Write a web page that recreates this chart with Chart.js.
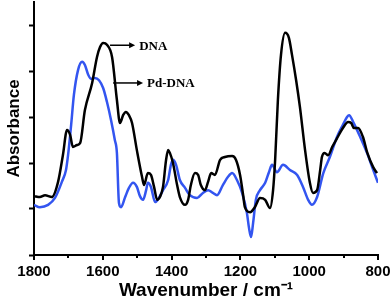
<!DOCTYPE html>
<html>
<head>
<meta charset="utf-8">
<script src="https://cdn.jsdelivr.net/npm/chart.js@4.4.1/dist/chart.umd.min.js"></script>
<style>
  html, body { margin: 0; padding: 0; background: #fff; }
  #wrap { width: 392px; height: 304px; }
</style>
</head>
<body>
<div id="wrap"><canvas id="chart" width="392" height="304"></canvas></div>
<script>
// DNA (black) spectrum
const dnaWave = [1800, 1783, 1768, 1748, 1730, 1716, 1704, 1695, 1687, 1675, 1666, 1652, 1631, 1617, 1608, 1599, 1588, 1573, 1559, 1550,
	1541, 1533, 1524, 1515, 1501, 1486, 1480, 1469, 1460, 1451, 1442, 1434, 1425, 1416, 1410, 1405, 1396, 1384, 1376, 1361,
	1352, 1344, 1332, 1323, 1315, 1303, 1294, 1285, 1274, 1259, 1245, 1224, 1213, 1201, 1192, 1187, 1172, 1158, 1143, 1128,
	1114, 1105, 1099, 1091, 1082, 1070, 1059, 1050, 1038, 1027, 1012, 998, 989, 977, 968, 963, 955, 945, 933, 919,
	902, 887, 878, 870, 858, 844, 831, 814, 803];
const dnaAbs = [1.28, 1.26, 1.30, 1.26, 1.59, 2.17, 2.72, 2.61, 2.35, 2.39, 2.43, 3.15, 3.74, 4.30, 4.52, 4.61, 4.57, 4.30, 3.37, 2.87,
	3.04, 3.11, 3.04, 2.87, 2.28, 1.70, 1.52, 1.78, 1.74, 1.48, 1.20, 1.26, 1.48, 2.07, 2.28, 2.22, 2.00, 1.52, 1.26, 1.09,
	1.20, 1.52, 1.78, 1.74, 1.52, 1.41, 1.59, 1.78, 1.74, 2.07, 2.13, 2.15, 2.07, 1.74, 1.30, 1.04, 0.93, 1.04, 1.24, 1.20,
	1.02, 1.41, 2.07, 3.37, 4.35, 4.83, 4.72, 4.35, 3.80, 3.22, 2.28, 1.57, 1.35, 1.41, 1.85, 2.13, 2.22, 2.17, 2.35, 2.54,
	2.76, 2.89, 2.87, 2.76, 2.76, 2.57, 2.22, 1.91, 1.78];

// Pd-DNA (blue) spectrum
const pdWave = [1800, 1783, 1759, 1739, 1719, 1707, 1701, 1692, 1684, 1672, 1660, 1652, 1643, 1634, 1623, 1611, 1599, 1588, 1576, 1565,
	1559, 1553, 1547, 1535, 1524, 1512, 1501, 1492, 1483, 1474, 1469, 1460, 1448, 1437, 1425, 1410, 1402, 1396, 1387, 1376,
	1361, 1347, 1326, 1309, 1294, 1280, 1268, 1251, 1236, 1224, 1210, 1195, 1181, 1175, 1169, 1163, 1155, 1143, 1128, 1117,
	1108, 1094, 1076, 1056, 1035, 1018, 1003, 992, 977, 959, 940, 919, 902, 890, 884, 872, 852, 832, 814, 800];
const pdAbs = [1.09, 1.04, 1.09, 1.24, 1.59, 1.85, 2.17, 2.83, 3.48, 4.02, 4.20, 4.13, 3.93, 3.83, 3.85, 3.80, 3.63, 3.33, 2.93, 2.50,
	2.22, 1.13, 1.04, 1.26, 1.46, 1.57, 1.48, 1.28, 1.20, 1.41, 1.57, 1.48, 1.15, 1.24, 1.41, 1.63, 1.96, 2.07, 1.96, 1.63,
	1.46, 1.30, 1.24, 1.35, 1.41, 1.35, 1.30, 1.52, 1.70, 1.78, 1.63, 1.35, 0.91, 0.59, 0.39, 0.70, 1.20, 1.41, 1.57, 1.80,
	1.96, 1.80, 1.96, 1.85, 1.74, 1.48, 1.20, 1.09, 1.26, 1.78, 2.13, 2.57, 2.83, 3.00, 3.04, 2.89, 2.57, 2.22, 1.85, 1.57];

// labelled arrows: text, arrow start / end wavenumber, height
const noteText = ['DNA', 'Pd-DNA'];
const noteFrom = [1579, 1570];
const noteTo = [1506, 1483];
const noteAt = [4.56, 3.74];

const xTickLabels = [1800, 1600, 1400, 1200, 1000, 800];

function toPoints(xs, ys) {
	return xs.map((x, i) => ({ x, y: ys[i] }));
}

// minor / major ticks on the wavenumber axis
const xTickMarks = {
	id: 'xTickMarks',
	afterDraw(chart) {
		const { ctx } = chart;
		const scale = chart.scales.x;
		ctx.save();
		ctx.strokeStyle = '#000';
		ctx.lineWidth = 2;
		scale.ticks.forEach((t) => {
			const px = Math.round(scale.getPixelForValue(t.value));
			const len = xTickLabels.includes(t.value) ? 5 : 3;
			ctx.beginPath();
			ctx.moveTo(px, scale.top);
			ctx.lineTo(px, scale.top + len);
			ctx.stroke();
		});
		ctx.restore();
	},
};

const notes = {
	id: 'notes',
	afterDatasetsDraw(chart) {
		const { ctx } = chart;
		const { x, y } = chart.scales;
		ctx.save();
		ctx.strokeStyle = '#000';
		ctx.fillStyle = '#000';
		ctx.lineWidth = 1.5;
		ctx.font = 'bold 13px "Liberation Serif", serif';
		ctx.textBaseline = 'middle';
		noteText.forEach((text, i) => {
			const x0 = x.getPixelForValue(noteFrom[i]);
			const x1 = x.getPixelForValue(noteTo[i]);
			const py = y.getPixelForValue(noteAt[i]);
			ctx.beginPath();
			ctx.moveTo(x0, py);
			ctx.lineTo(x1 - 4, py);
			ctx.stroke();
			ctx.beginPath();
			ctx.moveTo(x1, py);
			ctx.lineTo(x1 - 6, py - 3);
			ctx.lineTo(x1 - 6, py + 3);
			ctx.closePath();
			ctx.fill();
			ctx.fillText(text, x1 + 4, py + 1);
		});
		ctx.restore();
	},
};

new Chart(document.getElementById('chart'), {
	type: 'line',
	data: {
		datasets: [
			{
				label: 'DNA',
				data: toPoints(dnaWave, dnaAbs),
				borderColor: '#000000',
				borderWidth: 2.5,
			},
			{
				label: 'Pd-DNA',
				data: toPoints(pdWave, pdAbs),
				borderColor: '#3355f0',
				borderWidth: 2.5,
			},
		],
	},
	options: {
		responsive: false,
		animation: false,
		layout: { padding: { top: 2, right: 0, left: 0, bottom: 0 } },
		elements: {
			point: { radius: 0 },
			line: { cubicInterpolationMode: 'monotone' },
		},
		plugins: {
			legend: { display: false },
			tooltip: { enabled: false },
		},
		scales: {
			x: {
				type: 'linear',
				reverse: true,
				min: 800,
				max: 1800,
				afterFit: (scale) => { scale.height = 49; scale.paddingRight = 14; },
				border: { display: true, color: '#000', width: 2 },
				grid: { display: true, drawOnChartArea: false, drawTicks: false },
				ticks: {
					stepSize: 100,
					autoSkip: false,
					maxRotation: 0,
					padding: 8,
					color: '#000',
					font: { family: '"Liberation Sans", Arial, sans-serif', size: 15, weight: 'bold' },
					callback: (v) => (xTickLabels.includes(v) ? String(v) : ''),
				},
				title: {
					display: true,
					text: 'Wavenumber / cm\u207B\u00B9',
					color: '#000',
					padding: { top: 0, bottom: 2 },
					font: { family: '"Liberation Sans", Arial, sans-serif', size: 19, weight: 'bold' },
				},
			},
			y: {
				min: 0,
				max: 5.5,
				afterFit: (scale) => { scale.width = 34; },
				border: { display: true, color: '#000', width: 2 },
				grid: { display: true, drawOnChartArea: false, drawTicks: true, tickLength: 5, tickWidth: 2, tickColor: '#000' },
				ticks: { display: false, stepSize: 1, includeBounds: false },
				title: {
					display: true,
					text: 'Absorbance',
					color: '#000',
					padding: { top: 4, bottom: 0 },
					font: { family: '"Liberation Sans", Arial, sans-serif', size: 17, weight: 'bold' },
				},
			},
		},
	},
	plugins: [xTickMarks, notes],
});
</script>
</body>
</html>
